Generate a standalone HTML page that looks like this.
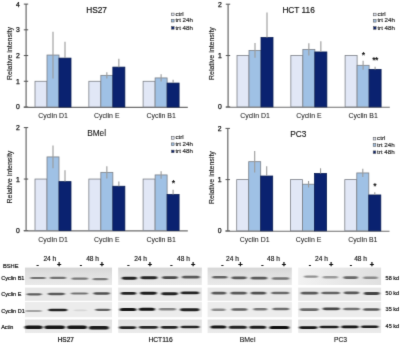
<!DOCTYPE html>
<html><head><meta charset="utf-8"><title>Cyclin expression</title>
<style>
html,body{margin:0;padding:0;background:#fff;}
body{width:401px;height:343px;overflow:hidden;}
svg{display:block;font-family:"Liberation Sans", Arial, sans-serif;}
</style></head>
<body>
<svg width="401" height="343" viewBox="0 0 401 343">
<defs><filter id="gb" x="0" y="0" width="401" height="343" filterUnits="userSpaceOnUse" color-interpolation-filters="sRGB"><feConvolveMatrix order="3" kernelMatrix="0.0100 0.0800 0.0100 0.0800 0.6400 0.0800 0.0100 0.0800 0.0100" edgeMode="duplicate"/></filter></defs>
<g filter="url(#gb)">
<rect width="401" height="343" fill="#fff"/>
<line x1="26.1" y1="4.1" x2="26.1" y2="107.0" stroke="#6e6e6e" stroke-width="1.25"/>
<line x1="23.8" y1="107.00" x2="28.2" y2="107.00" stroke="#555" stroke-width="1"/>
<text x="19.8" y="109.45" font-size="6.8" text-anchor="end" fill="#111" stroke="#111" stroke-width="0.25">0</text>
<line x1="23.8" y1="81.28" x2="28.2" y2="81.28" stroke="#555" stroke-width="1"/>
<text x="19.8" y="83.73" font-size="6.8" text-anchor="end" fill="#111" stroke="#111" stroke-width="0.25">1</text>
<line x1="23.8" y1="55.55" x2="28.2" y2="55.55" stroke="#555" stroke-width="1"/>
<text x="19.8" y="58.00" font-size="6.8" text-anchor="end" fill="#111" stroke="#111" stroke-width="0.25">2</text>
<line x1="23.8" y1="29.82" x2="28.2" y2="29.82" stroke="#555" stroke-width="1"/>
<text x="19.8" y="32.27" font-size="6.8" text-anchor="end" fill="#111" stroke="#111" stroke-width="0.25">3</text>
<line x1="23.8" y1="4.10" x2="28.2" y2="4.10" stroke="#555" stroke-width="1"/>
<text x="19.8" y="6.55" font-size="6.8" text-anchor="end" fill="#111" stroke="#111" stroke-width="0.25">4</text>
<line x1="23.8" y1="107.40" x2="187.8" y2="107.40" stroke="#6e6e6e" stroke-width="1.1"/>
<text transform="translate(11.8,53.5) rotate(-90)" font-size="7.0" text-anchor="middle" fill="#222" stroke="#222" stroke-width="0.15">Relative intensity</text>
<text x="96.6" y="12.7" font-size="8.3" text-anchor="middle" fill="#111" stroke="#111" stroke-width="0.18">HS27</text>
<rect x="171.5" y="13.1" width="2.6" height="2.6" fill="#e1e7f6" stroke="#555" stroke-width="0.55"/>
<text x="175.4" y="15.6" font-size="6.2" fill="#222" stroke="#222" stroke-width="0.15">ctrl</text>
<rect x="171.5" y="19.4" width="2.6" height="2.6" fill="#9fc1e5" stroke="#555" stroke-width="0.55"/>
<text x="175.4" y="22.3" font-size="6.2" fill="#222" stroke="#222" stroke-width="0.15">trt 24h</text>
<rect x="171.5" y="26.6" width="2.6" height="2.6" fill="#0a2270" stroke="#555" stroke-width="0.55"/>
<text x="175.4" y="29.9" font-size="6.2" fill="#222" stroke="#222" stroke-width="0.15">trt 48h</text>
<rect x="35.00" y="81.28" width="12.0" height="25.72" fill="#e1e7f6" stroke="#7d8188" stroke-width="0.8"/>
<rect x="47.00" y="55.04" width="12.0" height="51.96" fill="#9fc1e5" stroke="#7d8188" stroke-width="0.8"/>
<line x1="53.00" y1="31.63" x2="53.00" y2="78.45" stroke="#9a9a9a" stroke-width="1.1"/>
<rect x="59.00" y="58.12" width="12.0" height="48.88" fill="#0a2270" stroke="#0a1f55" stroke-width="0.8"/>
<line x1="65.00" y1="41.66" x2="65.00" y2="58.12" stroke="#9a9a9a" stroke-width="1.1"/>
<text x="53.0" y="118.0" font-size="6.95" text-anchor="middle" fill="#222" stroke="#222" stroke-width="0.05">Cyclin D1</text>
<rect x="88.85" y="81.28" width="12.0" height="25.72" fill="#e1e7f6" stroke="#7d8188" stroke-width="0.8"/>
<rect x="100.85" y="75.36" width="12.0" height="31.64" fill="#9fc1e5" stroke="#7d8188" stroke-width="0.8"/>
<line x1="106.85" y1="72.27" x2="106.85" y2="78.45" stroke="#9a9a9a" stroke-width="1.1"/>
<rect x="112.85" y="67.13" width="12.0" height="39.87" fill="#0a2270" stroke="#0a1f55" stroke-width="0.8"/>
<line x1="118.85" y1="58.64" x2="118.85" y2="67.13" stroke="#9a9a9a" stroke-width="1.1"/>
<text x="106.8" y="118.0" font-size="6.95" text-anchor="middle" fill="#222" stroke="#222" stroke-width="0.05">Cyclin E</text>
<rect x="143.10" y="81.28" width="12.0" height="25.72" fill="#e1e7f6" stroke="#7d8188" stroke-width="0.8"/>
<rect x="155.10" y="77.93" width="12.0" height="29.07" fill="#9fc1e5" stroke="#7d8188" stroke-width="0.8"/>
<line x1="161.10" y1="74.33" x2="161.10" y2="81.53" stroke="#9a9a9a" stroke-width="1.1"/>
<rect x="167.10" y="83.08" width="12.0" height="23.92" fill="#0a2270" stroke="#0a1f55" stroke-width="0.8"/>
<line x1="173.10" y1="79.73" x2="173.10" y2="83.08" stroke="#9a9a9a" stroke-width="1.1"/>
<text x="161.1" y="118.0" font-size="6.95" text-anchor="middle" fill="#222" stroke="#222" stroke-width="0.05">Cyclin B1</text>
<line x1="228.1" y1="4.2" x2="228.1" y2="106.9" stroke="#6e6e6e" stroke-width="1.25"/>
<line x1="225.8" y1="106.90" x2="230.2" y2="106.90" stroke="#555" stroke-width="1"/>
<text x="221.8" y="109.35" font-size="6.8" text-anchor="end" fill="#111" stroke="#111" stroke-width="0.25">0</text>
<line x1="225.8" y1="55.55" x2="230.2" y2="55.55" stroke="#555" stroke-width="1"/>
<text x="221.8" y="58.00" font-size="6.8" text-anchor="end" fill="#111" stroke="#111" stroke-width="0.25">1</text>
<line x1="225.8" y1="4.20" x2="230.2" y2="4.20" stroke="#555" stroke-width="1"/>
<text x="221.8" y="6.65" font-size="6.8" text-anchor="end" fill="#111" stroke="#111" stroke-width="0.25">2</text>
<line x1="225.8" y1="107.30" x2="389.8" y2="107.30" stroke="#6e6e6e" stroke-width="1.1"/>
<text transform="translate(213.8,53.6) rotate(-90)" font-size="7.0" text-anchor="middle" fill="#222" stroke="#222" stroke-width="0.15">Relative intensity</text>
<text x="298.6" y="12.8" font-size="8.3" text-anchor="middle" fill="#111" stroke="#111" stroke-width="0.15">HCT 116</text>
<rect x="373.5" y="13.2" width="2.6" height="2.6" fill="#e1e7f6" stroke="#555" stroke-width="0.55"/>
<text x="377.4" y="15.7" font-size="6.2" fill="#222" stroke="#222" stroke-width="0.15">ctrl</text>
<rect x="373.5" y="19.5" width="2.6" height="2.6" fill="#9fc1e5" stroke="#555" stroke-width="0.55"/>
<text x="377.4" y="22.4" font-size="6.2" fill="#222" stroke="#222" stroke-width="0.15">trt 24h</text>
<rect x="373.5" y="26.7" width="2.6" height="2.6" fill="#0a2270" stroke="#555" stroke-width="0.55"/>
<text x="377.4" y="30.0" font-size="6.2" fill="#222" stroke="#222" stroke-width="0.15">trt 48h</text>
<rect x="237.00" y="55.55" width="12.0" height="51.35" fill="#e1e7f6" stroke="#7d8188" stroke-width="0.8"/>
<rect x="249.00" y="50.41" width="12.0" height="56.49" fill="#9fc1e5" stroke="#7d8188" stroke-width="0.8"/>
<line x1="255.00" y1="42.97" x2="255.00" y2="57.86" stroke="#9a9a9a" stroke-width="1.1"/>
<rect x="261.00" y="37.58" width="12.0" height="69.32" fill="#0a2270" stroke="#0a1f55" stroke-width="0.8"/>
<line x1="267.00" y1="12.42" x2="267.00" y2="37.58" stroke="#9a9a9a" stroke-width="1.1"/>
<text x="255.0" y="117.9" font-size="6.95" text-anchor="middle" fill="#222" stroke="#222" stroke-width="0.05">Cyclin D1</text>
<rect x="290.85" y="55.55" width="12.0" height="51.35" fill="#e1e7f6" stroke="#7d8188" stroke-width="0.8"/>
<rect x="302.85" y="49.39" width="12.0" height="57.51" fill="#9fc1e5" stroke="#7d8188" stroke-width="0.8"/>
<line x1="308.85" y1="43.23" x2="308.85" y2="55.55" stroke="#9a9a9a" stroke-width="1.1"/>
<rect x="314.85" y="51.96" width="12.0" height="54.94" fill="#0a2270" stroke="#0a1f55" stroke-width="0.8"/>
<line x1="320.85" y1="41.17" x2="320.85" y2="51.96" stroke="#9a9a9a" stroke-width="1.1"/>
<text x="308.9" y="117.9" font-size="6.95" text-anchor="middle" fill="#222" stroke="#222" stroke-width="0.05">Cyclin E</text>
<rect x="345.10" y="55.55" width="12.0" height="51.35" fill="#e1e7f6" stroke="#7d8188" stroke-width="0.8"/>
<rect x="357.10" y="65.31" width="12.0" height="41.59" fill="#9fc1e5" stroke="#7d8188" stroke-width="0.8"/>
<line x1="363.10" y1="60.79" x2="363.10" y2="69.83" stroke="#9a9a9a" stroke-width="1.1"/>
<rect x="369.10" y="69.41" width="12.0" height="37.49" fill="#0a2270" stroke="#0a1f55" stroke-width="0.8"/>
<line x1="375.10" y1="66.85" x2="375.10" y2="69.41" stroke="#9a9a9a" stroke-width="1.1"/>
<text x="363.1" y="117.9" font-size="6.95" text-anchor="middle" fill="#222" stroke="#222" stroke-width="0.05">Cyclin B1</text>
<text x="363.2" y="58.0" font-size="8.6" text-anchor="middle" font-weight="bold" fill="#111" letter-spacing="-0.6">*</text>
<text x="375.0" y="63.4" font-size="8.6" text-anchor="middle" font-weight="bold" fill="#111" letter-spacing="-0.6">**</text>
<line x1="26.1" y1="127.6" x2="26.1" y2="230.5" stroke="#6e6e6e" stroke-width="1.25"/>
<line x1="23.8" y1="230.50" x2="28.2" y2="230.50" stroke="#555" stroke-width="1"/>
<text x="19.8" y="232.95" font-size="6.8" text-anchor="end" fill="#111" stroke="#111" stroke-width="0.25">0</text>
<line x1="23.8" y1="179.05" x2="28.2" y2="179.05" stroke="#555" stroke-width="1"/>
<text x="19.8" y="181.50" font-size="6.8" text-anchor="end" fill="#111" stroke="#111" stroke-width="0.25">1</text>
<line x1="23.8" y1="127.60" x2="28.2" y2="127.60" stroke="#555" stroke-width="1"/>
<text x="19.8" y="130.05" font-size="6.8" text-anchor="end" fill="#111" stroke="#111" stroke-width="0.25">2</text>
<line x1="23.8" y1="230.90" x2="187.8" y2="230.90" stroke="#6e6e6e" stroke-width="1.1"/>
<text transform="translate(11.8,177.1) rotate(-90)" font-size="7.0" text-anchor="middle" fill="#222" stroke="#222" stroke-width="0.15">Relative intensity</text>
<text x="96.6" y="136.2" font-size="8.3" text-anchor="middle" fill="#111" stroke="#111" stroke-width="0.08">BMel</text>
<rect x="171.5" y="136.6" width="2.6" height="2.6" fill="#e1e7f6" stroke="#555" stroke-width="0.55"/>
<text x="175.4" y="139.1" font-size="6.2" fill="#222" stroke="#222" stroke-width="0.15">ctrl</text>
<rect x="171.5" y="142.9" width="2.6" height="2.6" fill="#9fc1e5" stroke="#555" stroke-width="0.55"/>
<text x="175.4" y="145.8" font-size="6.2" fill="#222" stroke="#222" stroke-width="0.15">trt 24h</text>
<rect x="171.5" y="150.1" width="2.6" height="2.6" fill="#0a2270" stroke="#555" stroke-width="0.55"/>
<text x="175.4" y="153.4" font-size="6.2" fill="#222" stroke="#222" stroke-width="0.15">trt 48h</text>
<rect x="35.00" y="179.05" width="12.0" height="51.45" fill="#e1e7f6" stroke="#7d8188" stroke-width="0.8"/>
<rect x="47.00" y="156.93" width="12.0" height="73.57" fill="#9fc1e5" stroke="#7d8188" stroke-width="0.8"/>
<line x1="53.00" y1="145.61" x2="53.00" y2="168.25" stroke="#9a9a9a" stroke-width="1.1"/>
<rect x="59.00" y="181.62" width="12.0" height="48.88" fill="#0a2270" stroke="#0a1f55" stroke-width="0.8"/>
<line x1="65.00" y1="170.30" x2="65.00" y2="181.62" stroke="#9a9a9a" stroke-width="1.1"/>
<text x="53.0" y="241.5" font-size="6.95" text-anchor="middle" fill="#222" stroke="#222" stroke-width="0.05">Cyclin D1</text>
<rect x="88.85" y="179.05" width="12.0" height="51.45" fill="#e1e7f6" stroke="#7d8188" stroke-width="0.8"/>
<rect x="100.85" y="172.36" width="12.0" height="58.14" fill="#9fc1e5" stroke="#7d8188" stroke-width="0.8"/>
<line x1="106.85" y1="166.19" x2="106.85" y2="178.54" stroke="#9a9a9a" stroke-width="1.1"/>
<rect x="112.85" y="186.25" width="12.0" height="44.25" fill="#0a2270" stroke="#0a1f55" stroke-width="0.8"/>
<line x1="118.85" y1="181.62" x2="118.85" y2="186.25" stroke="#9a9a9a" stroke-width="1.1"/>
<text x="106.8" y="241.5" font-size="6.95" text-anchor="middle" fill="#222" stroke="#222" stroke-width="0.05">Cyclin E</text>
<rect x="143.10" y="179.05" width="12.0" height="51.45" fill="#e1e7f6" stroke="#7d8188" stroke-width="0.8"/>
<rect x="155.10" y="174.93" width="12.0" height="55.57" fill="#9fc1e5" stroke="#7d8188" stroke-width="0.8"/>
<line x1="161.10" y1="171.13" x2="161.10" y2="178.74" stroke="#9a9a9a" stroke-width="1.1"/>
<rect x="167.10" y="194.49" width="12.0" height="36.01" fill="#0a2270" stroke="#0a1f55" stroke-width="0.8"/>
<line x1="173.10" y1="189.85" x2="173.10" y2="194.49" stroke="#9a9a9a" stroke-width="1.1"/>
<text x="161.1" y="241.5" font-size="6.95" text-anchor="middle" fill="#222" stroke="#222" stroke-width="0.05">Cyclin B1</text>
<text x="173.2" y="185.8" font-size="8.6" text-anchor="middle" font-weight="bold" fill="#111" letter-spacing="-0.6">*</text>
<line x1="227.79999999999998" y1="128.4" x2="227.79999999999998" y2="230.8" stroke="#6e6e6e" stroke-width="1.25"/>
<line x1="225.5" y1="230.80" x2="229.89999999999998" y2="230.80" stroke="#555" stroke-width="1"/>
<text x="221.5" y="233.25" font-size="6.8" text-anchor="end" fill="#111" stroke="#111" stroke-width="0.25">0</text>
<line x1="225.5" y1="179.60" x2="229.89999999999998" y2="179.60" stroke="#555" stroke-width="1"/>
<text x="221.5" y="182.05" font-size="6.8" text-anchor="end" fill="#111" stroke="#111" stroke-width="0.25">1</text>
<line x1="225.5" y1="128.40" x2="229.89999999999998" y2="128.40" stroke="#555" stroke-width="1"/>
<text x="221.5" y="130.85" font-size="6.8" text-anchor="end" fill="#111" stroke="#111" stroke-width="0.25">2</text>
<line x1="225.5" y1="231.20" x2="389.5" y2="231.20" stroke="#6e6e6e" stroke-width="1.1"/>
<text transform="translate(213.5,177.6) rotate(-90)" font-size="7.0" text-anchor="middle" fill="#222" stroke="#222" stroke-width="0.15">Relative intensity</text>
<text x="298.3" y="137.0" font-size="8.3" text-anchor="middle" fill="#111" stroke="#111" stroke-width="0.12">PC3</text>
<rect x="373.2" y="137.4" width="2.6" height="2.6" fill="#e1e7f6" stroke="#555" stroke-width="0.55"/>
<text x="377.1" y="139.9" font-size="6.2" fill="#222" stroke="#222" stroke-width="0.15">ctrl</text>
<rect x="373.2" y="143.7" width="2.6" height="2.6" fill="#9fc1e5" stroke="#555" stroke-width="0.55"/>
<text x="377.1" y="146.6" font-size="6.2" fill="#222" stroke="#222" stroke-width="0.15">trt 24h</text>
<rect x="373.2" y="150.9" width="2.6" height="2.6" fill="#0a2270" stroke="#555" stroke-width="0.55"/>
<text x="377.1" y="154.2" font-size="6.2" fill="#222" stroke="#222" stroke-width="0.15">trt 48h</text>
<rect x="236.70" y="179.60" width="12.0" height="51.20" fill="#e1e7f6" stroke="#7d8188" stroke-width="0.8"/>
<rect x="248.70" y="161.68" width="12.0" height="69.12" fill="#9fc1e5" stroke="#7d8188" stroke-width="0.8"/>
<line x1="254.70" y1="150.93" x2="254.70" y2="172.43" stroke="#9a9a9a" stroke-width="1.1"/>
<rect x="260.70" y="176.02" width="12.0" height="54.78" fill="#0a2270" stroke="#0a1f55" stroke-width="0.8"/>
<line x1="266.70" y1="166.29" x2="266.70" y2="176.02" stroke="#9a9a9a" stroke-width="1.1"/>
<text x="254.7" y="241.8" font-size="6.95" text-anchor="middle" fill="#222" stroke="#222" stroke-width="0.05">Cyclin D1</text>
<rect x="290.55" y="179.60" width="12.0" height="51.20" fill="#e1e7f6" stroke="#7d8188" stroke-width="0.8"/>
<rect x="302.55" y="184.21" width="12.0" height="46.59" fill="#9fc1e5" stroke="#7d8188" stroke-width="0.8"/>
<line x1="308.55" y1="180.98" x2="308.55" y2="187.43" stroke="#9a9a9a" stroke-width="1.1"/>
<rect x="314.55" y="173.46" width="12.0" height="57.34" fill="#0a2270" stroke="#0a1f55" stroke-width="0.8"/>
<line x1="320.55" y1="168.34" x2="320.55" y2="173.46" stroke="#9a9a9a" stroke-width="1.1"/>
<text x="308.6" y="241.8" font-size="6.95" text-anchor="middle" fill="#222" stroke="#222" stroke-width="0.05">Cyclin E</text>
<rect x="344.80" y="179.60" width="12.0" height="51.20" fill="#e1e7f6" stroke="#7d8188" stroke-width="0.8"/>
<rect x="356.80" y="172.94" width="12.0" height="57.86" fill="#9fc1e5" stroke="#7d8188" stroke-width="0.8"/>
<line x1="362.80" y1="168.85" x2="362.80" y2="177.04" stroke="#9a9a9a" stroke-width="1.1"/>
<rect x="368.80" y="194.96" width="12.0" height="35.84" fill="#0a2270" stroke="#0a1f55" stroke-width="0.8"/>
<line x1="374.80" y1="192.25" x2="374.80" y2="194.96" stroke="#9a9a9a" stroke-width="1.1"/>
<text x="362.8" y="241.8" font-size="6.95" text-anchor="middle" fill="#222" stroke="#222" stroke-width="0.05">Cyclin B1</text>
<text x="374.7" y="189.3" font-size="8.6" text-anchor="middle" font-weight="bold" fill="#111" letter-spacing="-0.6">*</text>
<defs><filter id="bl" x="-20%" y="-100%" width="140%" height="300%"><feGaussianBlur stdDeviation="0.8 0.5"/></filter><filter id="bl2" x="-10%" y="-20%" width="120%" height="140%"><feGaussianBlur stdDeviation="0.5"/></filter><linearGradient id="gp1" x1="0" y1="0" x2="0" y2="1"><stop offset="0" stop-color="#d6d6d6"/><stop offset="0.35" stop-color="#dfdfdf"/><stop offset="1" stop-color="#e9e9e9"/></linearGradient><linearGradient id="gp4" x1="0" y1="0" x2="0" y2="1"><stop offset="0" stop-color="#e0e0e0"/><stop offset="1" stop-color="#ebebeb"/></linearGradient><linearGradient id="gpc3" x1="0" y1="0" x2="1" y2="0"><stop offset="0" stop-color="#f2f2f2"/><stop offset="0.5" stop-color="#e8e8e8"/><stop offset="1" stop-color="#e0e0e0"/></linearGradient></defs>
<rect x="25.0" y="267.6" width="87.0" height="17.4" fill="url(#gp1)" filter="url(#bl2)"/>
<rect x="30" y="276.91" width="16.0" height="2.19" rx="3" ry="1.09" fill="#707070" filter="url(#bl)"/>
<rect x="49.7" y="276.81" width="16.6" height="2.19" rx="3" ry="1.09" fill="#707070" filter="url(#bl)"/>
<rect x="71.4" y="277.62" width="16.8" height="2.15" rx="3" ry="1.08" fill="#787878" filter="url(#bl)"/>
<rect x="92.5" y="278.12" width="15.5" height="2.15" rx="3" ry="1.08" fill="#787878" filter="url(#bl)"/>
<rect x="25.0" y="287.6" width="87.0" height="13.2" fill="#e7e7e7" filter="url(#bl2)"/>
<rect x="26.4" y="293.17" width="15.6" height="2.26" rx="3" ry="1.13" fill="#5e5e5e" filter="url(#bl)"/>
<rect x="47.6" y="292.86" width="17.4" height="2.28" rx="3" ry="1.14" fill="#585858" filter="url(#bl)"/>
<rect x="70.7" y="292.41" width="17.5" height="2.18" rx="3" ry="1.09" fill="#727272" filter="url(#bl)"/>
<rect x="93.2" y="292.34" width="16.8" height="2.31" rx="3" ry="1.16" fill="#505050" filter="url(#bl)"/>
<rect x="25.0" y="302.0" width="87.0" height="15.2" fill="#ececec" filter="url(#bl2)"/>
<rect x="25" y="309.91" width="17.0" height="1.99" rx="3" ry="0.99" fill="#a2a2a2" filter="url(#bl)"/>
<rect x="48.2" y="308.85" width="19.3" height="2.50" rx="3" ry="1.25" fill="#222222" filter="url(#bl)"/>
<rect x="73.8" y="309.41" width="13.2" height="1.78" rx="3" ry="0.89" fill="#d6d6d6" filter="url(#bl)"/>
<rect x="95" y="308.67" width="15.6" height="2.25" rx="3" ry="1.13" fill="#606060" filter="url(#bl)"/>
<rect x="25.0" y="319.5" width="87.0" height="13.5" fill="url(#gp4)" filter="url(#bl2)"/>
<rect x="24.5" y="325.50" width="18.1" height="3.60" rx="3" ry="1.80" fill="#141414" filter="url(#bl)"/>
<rect x="44.4" y="325.50" width="20.6" height="3.60" rx="3" ry="1.80" fill="#181818" filter="url(#bl)"/>
<rect x="67" y="325.50" width="20.0" height="3.60" rx="3" ry="1.80" fill="#181818" filter="url(#bl)"/>
<rect x="88.8" y="326.00" width="20.0" height="3.60" rx="3" ry="1.80" fill="#1a1a1a" filter="url(#bl)"/>
<text x="37.6" y="266.9" font-size="6.8" text-anchor="middle" font-weight="bold" fill="#111" stroke="#111" stroke-width="0.3">-</text>
<text x="59.1" y="266.6" font-size="7.4" text-anchor="middle" font-weight="bold" fill="#111" stroke="#111" stroke-width="0.35">+</text>
<text x="80.9" y="266.9" font-size="6.8" text-anchor="middle" font-weight="bold" fill="#111" stroke="#111" stroke-width="0.3">-</text>
<text x="101.9" y="266.6" font-size="7.4" text-anchor="middle" font-weight="bold" fill="#111" stroke="#111" stroke-width="0.35">+</text>
<text x="49.8" y="261.0" font-size="6.6" text-anchor="middle" fill="#111" stroke="#111" stroke-width="0.15">24 h</text>
<text x="92.6" y="261.0" font-size="6.6" text-anchor="middle" fill="#111" stroke="#111" stroke-width="0.15">48 h</text>
<text x="65.8" y="341.5" font-size="6.5" text-anchor="middle" fill="#111" stroke="#111" stroke-width="0.22">HS27</text>
<rect x="118.2" y="267.6" width="83.6" height="17.4" fill="url(#gp1)" filter="url(#bl2)"/>
<rect x="121.7" y="276.73" width="15.3" height="2.95" rx="3" ry="1.47" fill="#202020" filter="url(#bl)"/>
<rect x="140.4" y="276.24" width="17.1" height="2.92" rx="3" ry="1.46" fill="#262626" filter="url(#bl)"/>
<rect x="161.9" y="276.22" width="16.1" height="2.76" rx="3" ry="1.38" fill="#484848" filter="url(#bl)"/>
<rect x="181.8" y="275.86" width="18.1" height="2.69" rx="3" ry="1.34" fill="#585858" filter="url(#bl)"/>
<rect x="118.2" y="287.6" width="83.6" height="13.2" fill="#e7e7e7" filter="url(#bl2)"/>
<rect x="120.7" y="291.93" width="15.6" height="2.94" rx="3" ry="1.47" fill="#222222" filter="url(#bl)"/>
<rect x="140" y="291.72" width="16.9" height="2.97" rx="3" ry="1.48" fill="#1c1c1c" filter="url(#bl)"/>
<rect x="161.2" y="292.33" width="16.8" height="2.94" rx="3" ry="1.47" fill="#222222" filter="url(#bl)"/>
<rect x="180.6" y="291.43" width="18.7" height="2.93" rx="3" ry="1.47" fill="#242424" filter="url(#bl)"/>
<rect x="118.2" y="302.0" width="83.6" height="15.2" fill="#ececec" filter="url(#bl2)"/>
<rect x="119.7" y="308.10" width="16.6" height="3.00" rx="3" ry="1.50" fill="#161616" filter="url(#bl)"/>
<rect x="138.8" y="307.70" width="16.2" height="3.00" rx="3" ry="1.50" fill="#161616" filter="url(#bl)"/>
<rect x="158.7" y="307.96" width="17.5" height="2.48" rx="3" ry="1.24" fill="#848484" filter="url(#bl)"/>
<rect x="179.9" y="308.33" width="19.7" height="2.94" rx="3" ry="1.47" fill="#222222" filter="url(#bl)"/>
<rect x="118.2" y="319.5" width="83.6" height="13.5" fill="url(#gp4)" filter="url(#bl2)"/>
<rect x="118.9" y="326.25" width="17.4" height="2.70" rx="3" ry="1.35" fill="#202020" filter="url(#bl)"/>
<rect x="138.8" y="325.95" width="19.3" height="2.70" rx="3" ry="1.35" fill="#262626" filter="url(#bl)"/>
<rect x="160.6" y="325.95" width="17.4" height="2.70" rx="3" ry="1.35" fill="#202020" filter="url(#bl)"/>
<rect x="180.6" y="325.65" width="19.0" height="2.70" rx="3" ry="1.35" fill="#202020" filter="url(#bl)"/>
<text x="128.4" y="266.9" font-size="6.8" text-anchor="middle" font-weight="bold" fill="#111" stroke="#111" stroke-width="0.3">-</text>
<text x="149.9" y="266.6" font-size="7.4" text-anchor="middle" font-weight="bold" fill="#111" stroke="#111" stroke-width="0.35">+</text>
<text x="171.5" y="266.9" font-size="6.8" text-anchor="middle" font-weight="bold" fill="#111" stroke="#111" stroke-width="0.3">-</text>
<text x="193.1" y="266.6" font-size="7.4" text-anchor="middle" font-weight="bold" fill="#111" stroke="#111" stroke-width="0.35">+</text>
<text x="140.6" y="261.0" font-size="6.6" text-anchor="middle" fill="#111" stroke="#111" stroke-width="0.15">24 h</text>
<text x="183.4" y="261.0" font-size="6.6" text-anchor="middle" fill="#111" stroke="#111" stroke-width="0.15">48 h</text>
<text x="160.6" y="341.5" font-size="6.7" text-anchor="middle" fill="#111" stroke="#111" stroke-width="0.15">HCT116</text>
<rect x="207.6" y="267.6" width="84.2" height="17.4" fill="url(#gp1)" filter="url(#bl2)"/>
<rect x="212" y="275.88" width="15.6" height="2.64" rx="3" ry="1.32" fill="#626262" filter="url(#bl)"/>
<rect x="231.3" y="276.46" width="15.6" height="2.69" rx="3" ry="1.34" fill="#585858" filter="url(#bl)"/>
<rect x="250.6" y="276.86" width="16.8" height="2.69" rx="3" ry="1.34" fill="#585858" filter="url(#bl)"/>
<rect x="271.8" y="277.22" width="17.5" height="2.55" rx="3" ry="1.28" fill="#747474" filter="url(#bl)"/>
<rect x="207.6" y="287.6" width="84.2" height="13.2" fill="#e7e7e7" filter="url(#bl2)"/>
<rect x="211.4" y="291.86" width="14.9" height="2.69" rx="3" ry="1.34" fill="#585858" filter="url(#bl)"/>
<rect x="230.4" y="291.86" width="16.5" height="2.69" rx="3" ry="1.34" fill="#585858" filter="url(#bl)"/>
<rect x="250.6" y="291.84" width="15.6" height="2.72" rx="3" ry="1.36" fill="#505050" filter="url(#bl)"/>
<rect x="271.2" y="291.69" width="18.1" height="2.61" rx="3" ry="1.31" fill="#686868" filter="url(#bl)"/>
<rect x="207.6" y="302.0" width="84.2" height="15.2" fill="#ececec" filter="url(#bl2)"/>
<rect x="211.4" y="308.58" width="14.3" height="2.44" rx="3" ry="1.22" fill="#8c8c8c" filter="url(#bl)"/>
<rect x="231.3" y="308.18" width="16.2" height="2.64" rx="3" ry="1.32" fill="#626262" filter="url(#bl)"/>
<rect x="253.1" y="307.93" width="14.3" height="2.54" rx="3" ry="1.27" fill="#787878" filter="url(#bl)"/>
<rect x="272.4" y="307.70" width="16.9" height="2.59" rx="3" ry="1.30" fill="#6c6c6c" filter="url(#bl)"/>
<rect x="207.6" y="319.5" width="84.2" height="13.5" fill="url(#gp4)" filter="url(#bl2)"/>
<rect x="210.5" y="325.40" width="15.8" height="3.00" rx="3" ry="1.50" fill="#141414" filter="url(#bl)"/>
<rect x="228.8" y="325.80" width="18.1" height="3.00" rx="3" ry="1.50" fill="#242424" filter="url(#bl)"/>
<rect x="249.4" y="325.80" width="16.8" height="3.00" rx="3" ry="1.50" fill="#1e1e1e" filter="url(#bl)"/>
<rect x="269.3" y="326.00" width="20.0" height="3.00" rx="3" ry="1.50" fill="#0e0e0e" filter="url(#bl)"/>
<text x="222.4" y="266.9" font-size="6.8" text-anchor="middle" font-weight="bold" fill="#111" stroke="#111" stroke-width="0.3">-</text>
<text x="240.5" y="266.6" font-size="7.4" text-anchor="middle" font-weight="bold" fill="#111" stroke="#111" stroke-width="0.35">+</text>
<text x="262.3" y="266.9" font-size="6.8" text-anchor="middle" font-weight="bold" fill="#111" stroke="#111" stroke-width="0.3">-</text>
<text x="283.9" y="266.6" font-size="7.4" text-anchor="middle" font-weight="bold" fill="#111" stroke="#111" stroke-width="0.35">+</text>
<text x="232.5" y="261.0" font-size="6.6" text-anchor="middle" fill="#111" stroke="#111" stroke-width="0.15">24 h</text>
<text x="273.4" y="261.0" font-size="6.6" text-anchor="middle" fill="#111" stroke="#111" stroke-width="0.15">48 h</text>
<text x="247.6" y="341.5" font-size="6.9" text-anchor="middle" fill="#111" stroke="#111" stroke-width="0.08">BMel</text>
<rect x="298.2" y="267.6" width="82.9" height="17.4" fill="url(#gpc3)" filter="url(#bl2)"/>
<rect x="303.8" y="275.39" width="14.4" height="2.41" rx="3" ry="1.21" fill="#929292" filter="url(#bl)"/>
<rect x="322.5" y="276.11" width="15.6" height="2.38" rx="3" ry="1.19" fill="#9a9a9a" filter="url(#bl)"/>
<rect x="343.1" y="276.29" width="15.0" height="2.61" rx="3" ry="1.31" fill="#686868" filter="url(#bl)"/>
<rect x="363" y="276.57" width="15.0" height="2.45" rx="3" ry="1.23" fill="#8a8a8a" filter="url(#bl)"/>
<rect x="298.2" y="287.6" width="82.9" height="13.2" fill="#e7e7e7" filter="url(#bl2)"/>
<rect x="300.7" y="291.86" width="17.5" height="2.69" rx="3" ry="1.34" fill="#585858" filter="url(#bl)"/>
<rect x="321.3" y="291.68" width="18.7" height="2.64" rx="3" ry="1.32" fill="#626262" filter="url(#bl)"/>
<rect x="343.7" y="291.46" width="15.6" height="2.69" rx="3" ry="1.34" fill="#585858" filter="url(#bl)"/>
<rect x="363.7" y="292.11" width="16.2" height="2.79" rx="3" ry="1.39" fill="#424242" filter="url(#bl)"/>
<rect x="298.2" y="302.0" width="82.9" height="15.2" fill="#ececec" filter="url(#bl2)"/>
<rect x="299.7" y="308.29" width="19.1" height="2.61" rx="3" ry="1.31" fill="#686868" filter="url(#bl)"/>
<rect x="322.5" y="307.41" width="17.5" height="2.77" rx="3" ry="1.39" fill="#464646" filter="url(#bl)"/>
<rect x="343.1" y="307.72" width="16.9" height="2.56" rx="3" ry="1.28" fill="#727272" filter="url(#bl)"/>
<rect x="363" y="308.16" width="16.9" height="2.69" rx="3" ry="1.34" fill="#585858" filter="url(#bl)"/>
<rect x="298.2" y="319.5" width="82.9" height="13.5" fill="url(#gp4)" filter="url(#bl2)"/>
<rect x="298.9" y="326.30" width="18.7" height="2.60" rx="3" ry="1.30" fill="#161616" filter="url(#bl)"/>
<rect x="319.4" y="325.70" width="19.4" height="2.60" rx="3" ry="1.30" fill="#1a1a1a" filter="url(#bl)"/>
<rect x="341.2" y="325.60" width="17.5" height="2.60" rx="3" ry="1.30" fill="#161616" filter="url(#bl)"/>
<rect x="360.9" y="325.40" width="17.7" height="2.60" rx="3" ry="1.30" fill="#1a1a1a" filter="url(#bl)"/>
<text x="310.0" y="266.9" font-size="6.8" text-anchor="middle" font-weight="bold" fill="#111" stroke="#111" stroke-width="0.3">-</text>
<text x="331.1" y="266.6" font-size="7.4" text-anchor="middle" font-weight="bold" fill="#111" stroke="#111" stroke-width="0.35">+</text>
<text x="350.9" y="266.9" font-size="6.8" text-anchor="middle" font-weight="bold" fill="#111" stroke="#111" stroke-width="0.3">-</text>
<text x="371.9" y="266.6" font-size="7.4" text-anchor="middle" font-weight="bold" fill="#111" stroke="#111" stroke-width="0.35">+</text>
<text x="321.5" y="261.0" font-size="6.6" text-anchor="middle" fill="#111" stroke="#111" stroke-width="0.15">24 h</text>
<text x="360.6" y="261.0" font-size="6.6" text-anchor="middle" fill="#111" stroke="#111" stroke-width="0.15">48 h</text>
<text x="340.5" y="341.5" font-size="6.7" text-anchor="middle" fill="#111" stroke="#111" stroke-width="0.1">PC3</text>
<text x="3.0" y="267.8" font-size="5.7" fill="#111" stroke="#111" stroke-width="0.18">BSHE</text>
<text x="1.2" y="280.3" font-size="5.5" fill="#111" stroke="#111" stroke-width="0.2">Cyclin B1</text>
<text x="1.2" y="296.3" font-size="5.5" fill="#111" stroke="#111" stroke-width="0.2">Cyclin E</text>
<text x="1.2" y="312.6" font-size="5.5" fill="#111" stroke="#111" stroke-width="0.2">Cyclin D1</text>
<text x="1.2" y="328.7" font-size="5.5" fill="#111" stroke="#111" stroke-width="0.2">Actin</text>
<text x="385.6" y="280.3" font-size="5.5" fill="#111" stroke="#111" stroke-width="0.2">58 kd</text>
<text x="385.6" y="294.6" font-size="5.5" fill="#111" stroke="#111" stroke-width="0.2">50 kd</text>
<text x="385.6" y="311.0" font-size="5.5" fill="#111" stroke="#111" stroke-width="0.2">35 kd</text>
<text x="385.6" y="328.0" font-size="5.5" fill="#111" stroke="#111" stroke-width="0.2">45 kd</text>
</g>
</svg>
</body></html>
